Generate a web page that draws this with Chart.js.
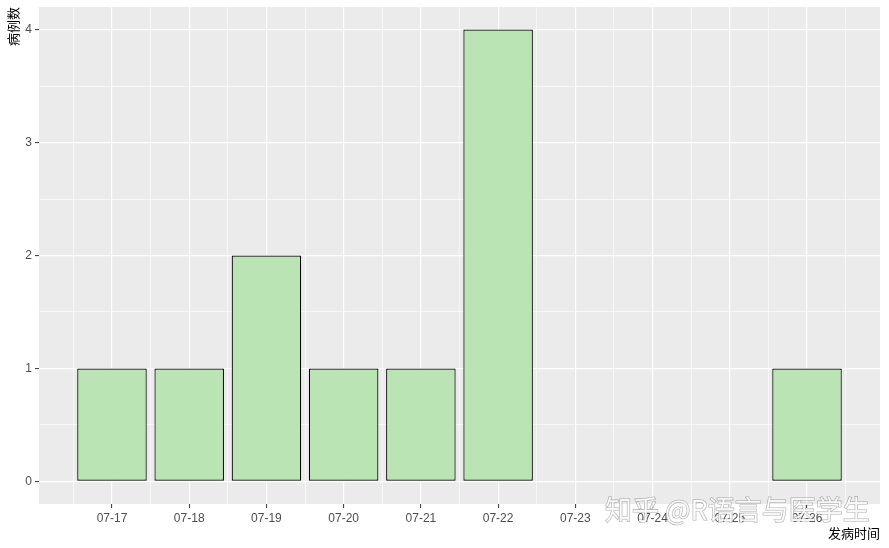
<!DOCTYPE html>
<html>
<head>
<meta charset="utf-8">
<script src="https://cdn.jsdelivr.net/npm/chart.js@4.4.0/dist/chart.umd.min.js"></script>
<style>
  html, body { margin: 0; padding: 0; background: #fff; }
  #wrap { width: 889px; height: 548px; }
</style>
</head>
<body>
<div id="wrap"><canvas id="onset-chart"></canvas></div>
<script>
// Data
const days = ['07-17', '07-18', '07-19', '07-20', '07-21', '07-22', '07-23', '07-24', '07-25', '07-26'];
const cases = [1, 1, 2, 1, 1, 4, null, null, null, 1];
const yTicks = [0, 1, 2, 3, 4];

const FONT = "'Liberation Sans', 'Noto Sans CJK SC', sans-serif";

// Grey panel behind the plot area, ggplot style
const panelBg = {
  id: 'panelBg',
  beforeDraw(c) {
    const { ctx, chartArea: a } = c;
    ctx.save();
    ctx.fillStyle = '#EBEBEB';
    ctx.fillRect(a.left, a.top, a.right - a.left, a.bottom - a.top);
    ctx.restore();
  },
};

// Site watermark over the lower right corner
const watermark = {
  id: 'watermark',
  afterDraw(c) {
    const { ctx } = c;
    ctx.save();
    ctx.font = "27px 'Noto Sans CJK SC', sans-serif";
    ctx.textBaseline = 'middle';
    ctx.lineWidth = 1.2;
    ctx.strokeStyle = 'rgba(110,110,110,0.55)';
    ctx.fillStyle = 'rgba(255,255,255,0.85)';
    ctx.strokeText('知乎 @R语言与医学生', 605, 510);
    ctx.fillText('知乎 @R语言与医学生', 605, 510);
    ctx.restore();
  },
};

const isMajor = (g) => g.tick && Math.abs(g.tick.value - Math.round(g.tick.value)) < 1e-6;

const ctx = document.getElementById('onset-chart');
// eslint-disable-next-line no-unused-vars
const chart = new Chart(ctx, {
  type: 'bar',
  data: {
    datasets: [{
      label: '病例数',
      data: days.map((d, i) => ({ x: i, y: cases[i] })).filter((p) => p.y !== null),
      backgroundColor: '#BAE4B3',
      borderColor: '#000000',
      borderWidth: 1.2,
      borderSkipped: false,
      // half-day minor ticks halve the bar ruler, so 1.8 gives 0.9 of a day
      barPercentage: 1.8,
      categoryPercentage: 1,
    }],
  },
  options: {
    responsive: true,
    maintainAspectRatio: false,
    animation: false,
    layout: { padding: { left: 0, top: 7, right: 9, bottom: 0 } },
    plugins: {
      legend: { display: false },
      tooltip: { enabled: false },
    },
    scales: {
      x: {
        type: 'linear',
        offset: false,
        min: -0.945,
        max: days.length - 1 + 0.945,
        afterBuildTicks(s) {
          const t = [];
          for (let i = -0.5; i <= days.length - 0.5; i += 0.5) t.push({ value: i });
          s.ticks = t;
        },
        afterFit(s) { s.height = 44; },
        border: { display: false },
        grid: {
          offset: false,
          color: '#FFFFFF',
          lineWidth: (g) => (isMajor(g) ? 1.2 : 0.6),
          tickColor: (g) => (isMajor(g) ? '#333333' : 'rgba(0,0,0,0)'),
          tickLength: 4,
          tickWidth: 1,
        },
        ticks: {
          autoSkip: false,
          maxRotation: 0,
          padding: 3,
          color: '#4D4D4D',
          font: { family: FONT, size: 12 },
          callback: (v) => (Number.isInteger(v) && days[v] ? days[v] : ''),
        },
        title: {
          display: true,
          text: '发病时间',
          align: 'end',
          color: '#000000',
          font: { family: FONT, size: 13 },
          padding: { top: 0, bottom: 6 },
        },
      },
      y: {
        type: 'linear',
        min: -0.2,
        max: 4.2,
        afterBuildTicks(s) {
          const t = [];
          for (let v = 0; v <= 4; v += 0.5) t.push({ value: v });
          s.ticks = t;
        },
        afterFit(s) {
          s.width = 39;
          // tick labels sit inside the panel, no extra room needed above/below
          s.paddingTop = 0;
          s.paddingBottom = 0;
        },
        border: { display: false },
        grid: {
          color: '#FFFFFF',
          lineWidth: (g) => (isMajor(g) ? 1.2 : 0.6),
          tickColor: (g) => (isMajor(g) ? '#333333' : 'rgba(0,0,0,0)'),
          tickLength: 4,
          tickWidth: 1,
        },
        ticks: {
          autoSkip: false,
          padding: 3,
          color: '#4D4D4D',
          font: { family: FONT, size: 12 },
          callback: (v) => (yTicks.includes(v) ? String(v) : ''),
        },
        title: {
          display: true,
          text: '病例数',
          align: 'end',
          color: '#000000',
          font: { family: FONT, size: 13 },
          padding: { top: 7, bottom: 0 },
        },
      },
    },
  },
  plugins: [panelBg, watermark],
});
</script>
</body>
</html>
